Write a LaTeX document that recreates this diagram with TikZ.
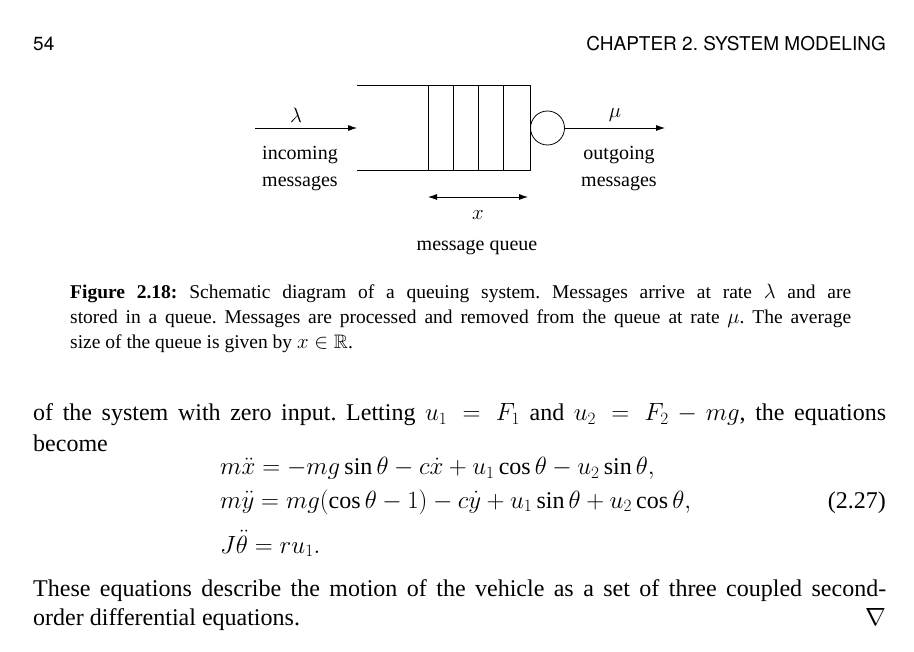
\documentclass[tikz,border=0pt]{standalone}
\usepackage{amsmath,amssymb}
\usepackage{fontspec}
\setmainfont{Liberation Serif}
\newfontfamily\hdr{TeX Gyre Heros}
\usetikzlibrary{arrows.meta}
\tikzset{
  flow/.style={-{Latex[length=9pt,width=6pt]},line width=0.8pt},
  body/.style={anchor=base west,inner sep=0,font=\frenchspacing\fontsize{24}{29}\selectfont},
  captxt/.style={anchor=base west,inner sep=0,font=\frenchspacing\fontsize{19.5}{24}\selectfont},
  lab/.style={inner sep=0,font=\fontsize{20}{25}\selectfont,align=center}
}
\begin{document}
\begin{tikzpicture}[x=1pt,y=-1pt]
\useasboundingbox[fill=white] (0,0) rectangle (914,652);
% header
\node[anchor=base west,inner sep=0,font=\hdr\fontsize{19}{22}\selectfont] (pg) at (33,51) {54};
\node[anchor=base east,inner sep=0,font=\hdr\fontsize{19}{22}\selectfont] (ch) at (886,51) {CHAPTER 2.\ SYSTEM MODELING};
% queue
\coordinate (qtl) at (357,85); \coordinate (qbl) at (357,170);
\coordinate (qtr) at (530,85); \coordinate (qbr) at (530,170);
\draw[line width=0.8pt] (qtl) -- (qtr) -- (qbr) -- (qbl);
\foreach \xx in {428,453,478,503} \draw[line width=0.8pt] (\xx,85) -- (\xx,170);
\node[circle,draw,line width=0.8pt,minimum size=34pt,inner sep=0] (srv) at (547.5,128) {};
\coordinate (inS) at (255,128); \coordinate (inE) at (357,128);
\draw[flow] (inS) -- (inE);
\coordinate (outE) at (665,128);
\draw[flow] (srv.east) -- (outE);
\node[lab] (lam) at (296,115) {$\lambda$};
\node[lab] (mu) at (615,115) {$\mu$};
\node[lab,anchor=north] (inc) at (300,146) {incoming\\[2pt]messages};
\node[lab,anchor=north] (outg) at (619,146) {outgoing\\[2pt]messages};
\coordinate (xa) at (428,197); \coordinate (xb) at (528,197);
\draw[{Latex[length=9pt,width=6pt]}-{Latex[length=9pt,width=6pt]},line width=0.8pt] (xa) -- (xb);
\node[lab] (xl) at (478,215) {$x$};
\node[lab] (mq) at (477,248) {message queue};
% caption
\node[captxt] (c1) at (70,299) {\hbox to 781pt{\textbf{Figure 2.18:} Schematic diagram of a queuing system. Messages arrive at rate $\lambda$ and are}};
\node[captxt] (c2) at (70,324) {\hbox to 781pt{stored in a queue. Messages are processed and removed from the queue at rate $\mu$. The average}};
\node[captxt] (c3) at (70,349) {size of the queue is given by $x\in\mathbb{R}$.};
% body
\node[body] (b1) at (33,421) {\hbox to 853pt{of the system with zero input. Letting $u_1=F_1$ and $u_2=F_2-mg$, the equations}};
\node[body] (b2) at (33,452) {become};
\node[body] (e1) at (220,475) {$m\ddot x = -mg\sin\theta - c\dot x + u_1\cos\theta - u_2\sin\theta,$};
\node[body] (e2) at (220,508) {$m\ddot y = mg(\cos\theta-1) - c\dot y + u_1\sin\theta + u_2\cos\theta,$};
\node[body] (e3) at (220,553) {$J\ddot\theta = ru_1.$};
\node[body,anchor=base east] (en) at (886,508) {(2.27)};
\node[body] (b3) at (33,596) {\hbox to 853pt{These equations describe the motion of the vehicle as a set of three coupled second-}};
\node[body] (b4) at (33,625) {order differential equations.};
\node[body,anchor=base east] (nab) at (886,625) {$\nabla$};
\end{tikzpicture}
\end{document}
